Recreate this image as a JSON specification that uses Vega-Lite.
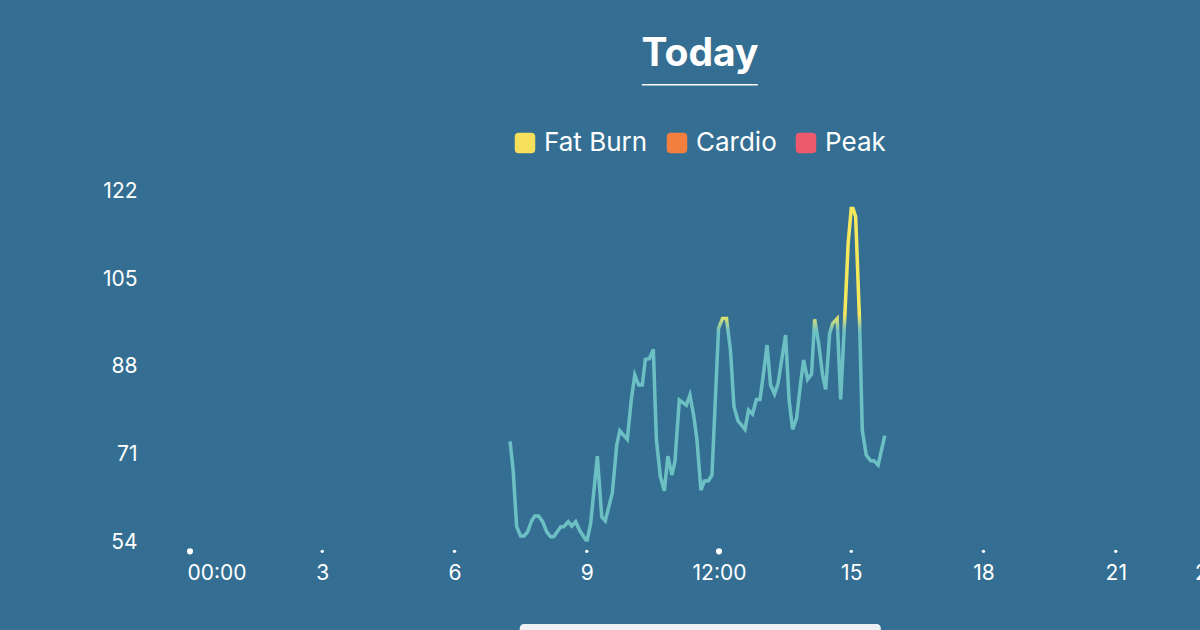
{
  "$schema": "https://vega.github.io/schema/vega-lite/v6.json",
  "background": "#346f93",
  "padding": {"left": 190, "top": 20, "right": 0, "bottom": 79},
  "autosize": {"type": "none"},
  "width": 1058,
  "height": 531,
  "title": {
    "text": "Today",
    "anchor": "middle",
    "frame": "group",
    "dx": -19,
    "dy": 54,
    "offset": 0,
    "font": "Inter",
    "fontSize": 39,
    "fontWeight": 700,
    "color": "#ffffff"
  },
  "config": {
    "view": {"stroke": null},
    "axis": {"grid": false, "domain": false, "ticks": false, "labelFont": "Inter", "labelFontSize": 21, "labelColor": "#ffffff", "labelFontWeight": 400, "title": null}
  },
  "datasets": {
    "heart": [
      {"hour": 7.26, "bpm": 73.36}, {"hour": 7.33, "bpm": 67.79}, {"hour": 7.41, "bpm": 56.78}, {"hour": 7.5, "bpm": 54.97},
      {"hour": 7.58, "bpm": 54.97}, {"hour": 7.66, "bpm": 55.81}, {"hour": 7.75, "bpm": 57.94}, {"hour": 7.82, "bpm": 58.85},
      {"hour": 7.91, "bpm": 58.85}, {"hour": 8.0, "bpm": 57.75}, {"hour": 8.09, "bpm": 55.81}, {"hour": 8.18, "bpm": 54.83},
      {"hour": 8.25, "bpm": 54.83}, {"hour": 8.41, "bpm": 56.78}, {"hour": 8.48, "bpm": 56.78}, {"hour": 8.58, "bpm": 57.75},
      {"hour": 8.66, "bpm": 56.91}, {"hour": 8.75, "bpm": 57.75}, {"hour": 8.84, "bpm": 56.0}, {"hour": 8.98, "bpm": 54.19},
      {"hour": 9.01, "bpm": 54.19}, {"hour": 9.09, "bpm": 57.5}, {"hour": 9.24, "bpm": 70.5}, {"hour": 9.34, "bpm": 58.72},
      {"hour": 9.42, "bpm": 57.94}, {"hour": 9.58, "bpm": 63.32}, {"hour": 9.68, "bpm": 72.64}, {"hour": 9.75, "bpm": 75.42},
      {"hour": 9.92, "bpm": 73.75}, {"hour": 10.01, "bpm": 81.38}, {"hour": 10.09, "bpm": 86.23}, {"hour": 10.18, "bpm": 84.29},
      {"hour": 10.26, "bpm": 84.29}, {"hour": 10.33, "bpm": 89.28}, {"hour": 10.42, "bpm": 89.4}, {"hour": 10.51, "bpm": 91.22},
      {"hour": 10.58, "bpm": 73.61}, {"hour": 10.67, "bpm": 66.49}, {"hour": 10.76, "bpm": 63.77}, {"hour": 10.84, "bpm": 70.5},
      {"hour": 10.93, "bpm": 66.82}, {"hour": 11.0, "bpm": 69.4}, {"hour": 11.1, "bpm": 81.38}, {"hour": 11.26, "bpm": 80.4},
      {"hour": 11.34, "bpm": 82.35}, {"hour": 11.43, "bpm": 78.14}, {"hour": 11.5, "bpm": 73.61}, {"hour": 11.59, "bpm": 63.9},
      {"hour": 11.67, "bpm": 65.65}, {"hour": 11.76, "bpm": 65.71}, {"hour": 11.84, "bpm": 66.82}, {"hour": 11.99, "bpm": 95.3},
      {"hour": 12.08, "bpm": 97.24}, {"hour": 12.17, "bpm": 97.24}, {"hour": 12.26, "bpm": 91.09}, {"hour": 12.34, "bpm": 80.08},
      {"hour": 12.43, "bpm": 77.36}, {"hour": 12.59, "bpm": 75.69}, {"hour": 12.67, "bpm": 79.44}, {"hour": 12.76, "bpm": 78.66},
      {"hour": 12.85, "bpm": 81.51}, {"hour": 12.93, "bpm": 81.51}, {"hour": 13.0, "bpm": 85.9}, {"hour": 13.09, "bpm": 92.06},
      {"hour": 13.17, "bpm": 84.29}, {"hour": 13.26, "bpm": 82.54}, {"hour": 13.34, "bpm": 84.62}, {"hour": 13.51, "bpm": 94.0},
      {"hour": 13.59, "bpm": 81.38}, {"hour": 13.67, "bpm": 75.69}, {"hour": 13.76, "bpm": 77.83}, {"hour": 13.85, "bpm": 84.62},
      {"hour": 13.92, "bpm": 89.15}, {"hour": 14.01, "bpm": 85.4}, {"hour": 14.1, "bpm": 86.43}, {"hour": 14.17, "bpm": 97.05},
      {"hour": 14.26, "bpm": 92.39}, {"hour": 14.35, "bpm": 86.23}, {"hour": 14.42, "bpm": 83.46}, {"hour": 14.51, "bpm": 94.33},
      {"hour": 14.58, "bpm": 96.27}, {"hour": 14.68, "bpm": 97.17}, {"hour": 14.76, "bpm": 81.51}, {"hour": 14.85, "bpm": 96.91},
      {"hour": 14.93, "bpm": 111.8}, {"hour": 15.0, "bpm": 118.6}, {"hour": 15.04, "bpm": 118.6}, {"hour": 15.1, "bpm": 116.97},
      {"hour": 15.19, "bpm": 96.27}, {"hour": 15.25, "bpm": 75.55}, {"hour": 15.34, "bpm": 70.7}, {"hour": 15.44, "bpm": 69.59},
      {"hour": 15.51, "bpm": 69.59}, {"hour": 15.61, "bpm": 68.76}, {"hour": 15.76, "bpm": 74.45}
    ],
    "ticks": [
      {"hour": 0, "bpm": 52, "kind": "major"}, {"hour": 3, "bpm": 52, "kind": "minor"}, {"hour": 6, "bpm": 52, "kind": "minor"}, {"hour": 9, "bpm": 52, "kind": "minor"},
      {"hour": 12, "bpm": 52, "kind": "major"}, {"hour": 15, "bpm": 52, "kind": "minor"}, {"hour": 18, "bpm": 52, "kind": "minor"}, {"hour": 21, "bpm": 52, "kind": "minor"}
    ],
    "zones": [{"zone": "Fat Burn"}, {"zone": "Cardio"}, {"zone": "Peak"}]
  },
  "encoding": {
    "x": {
      "field": "hour",
      "type": "quantitative",
      "scale": {"domain": [0, 24], "nice": false, "zero": false},
      "axis": {
        "values": [0, 3, 6, 9, 12, 15, 18, 21, 24],
        "labelExpr": "datum.value == 0 ? '00:00' : datum.value == 12 ? '12:00' : datum.value == 24 ? '23:59' : datum.label",
        "labelPadding": 11,
        "labelAlign": {"condition": [{"test": "datum.value == 0", "value": "left"}, {"test": "datum.value == 24", "value": "right"}], "value": "center"},
        "labelOffset": {"condition": [{"test": "datum.value == 0", "value": -3}, {"test": "datum.value == 24", "value": 4}], "value": 0},
        "labelBound": false,
        "labelFlush": false,
        "labelOverlap": false
      }
    },
    "y": {
      "field": "bpm",
      "type": "quantitative",
      "scale": {"domain": [52.06, 155.2], "nice": false, "zero": false},
      "axis": {"values": [54, 71, 88, 105, 122], "labelPadding": 53, "labelOffset": 1, "labelOverlap": false}
    }
  },
  "layer": [
    {
      "data": {"name": "heart"},
      "mark": {
        "type": "line",
        "strokeWidth": 3.5,
        "interpolate": "linear",
        "stroke": {
          "gradient": "linear",
          "x1": 0, "y1": 0, "x2": 0, "y2": 1,
          "stops": [
            {"offset": 0, "color": "#f6e85c"},
            {"offset": 0.32, "color": "#f6e85c"},
            {"offset": 0.37, "color": "#6cc0c4"},
            {"offset": 1, "color": "#6cc0c4"}
          ]
        }
      }
    },
    {
      "data": {"name": "ticks"},
      "mark": {"type": "circle", "color": "#ffffff", "opacity": 1, "clip": false},
      "encoding": {
        "size": {"condition": {"test": "datum.kind == 'major'", "value": 38}, "value": 11}
      }
    },
    {
      "data": {"values": [{"from": 10.25, "to": 12.88, "level": 142.6}]},
      "mark": {"type": "rule", "color": "#ffffff", "strokeWidth": 1.5},
      "encoding": {
        "x": {"field": "from", "type": "quantitative"},
        "x2": {"field": "to"},
        "y": {"field": "level", "type": "quantitative"}
      }
    },
    {
      "data": {"values": [{"from": 7.48, "to": 15.67, "top": 37.9, "bottom": 34}]},
      "mark": {"type": "bar", "color": "#eef1f3", "cornerRadius": 4},
      "encoding": {
        "x": {"field": "from", "type": "quantitative"},
        "x2": {"field": "to"},
        "y": {"field": "top", "type": "quantitative"},
        "y2": {"field": "bottom"}
      }
    },
    {
      "data": {"name": "zones"},
      "mark": {"type": "point", "size": 0, "filled": true, "opacity": 0},
      "encoding": {
        "x": {"datum": 12},
        "y": {"datum": 100},
        "color": {
          "field": "zone",
          "type": "nominal",
          "sort": null,
          "scale": {"domain": ["Fat Burn", "Cardio", "Peak"], "range": ["#f6e05c", "#f27f3d", "#ec5a6b"]},
          "legend": {
            "title": null,
            "orient": "none",
            "legendX": 322,
            "legendY": 110,
            "direction": "horizontal",
            "symbolType": "M-1,-0.6 Q-1,-1 -0.6,-1 L0.6,-1 Q1,-1 1,-0.6 L1,0.6 Q1,1 0.6,1 L-0.6,1 Q-1,1 -1,0.6 Z",
            "symbolSize": 420,
            "symbolOpacity": 1,
            "symbolStrokeWidth": 0,
            "labelFont": "Inter",
            "labelFontSize": 26,
            "labelColor": "#ffffff",
            "labelOffset": 6,
            "columnPadding": 16
          }
        }
      }
    }
  ]
}
